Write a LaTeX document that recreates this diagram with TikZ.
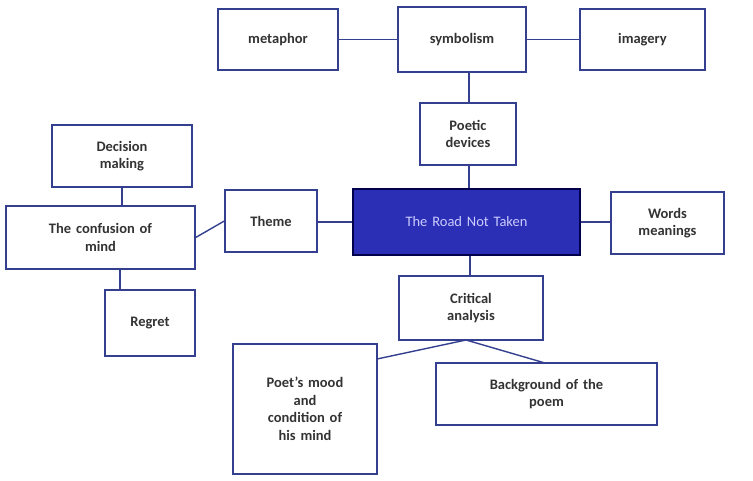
\documentclass[tikz,border=0pt]{standalone}
\usepackage{fontspec}
\setmainfont{Carlito}
\definecolor{ed}{HTML}{34408F}
\definecolor{rb}{HTML}{2A2FB5}
\begin{document}
\begin{tikzpicture}[x=1pt,y=-1pt,
  box/.style={draw=ed,line width=1.4pt,fill=white,align=center,font=\fontsize{14.5}{17.5}\selectfont\bfseries,text=black!80,inner sep=2pt},
  ln/.style={draw=ed,line width=1.4pt}]
\useasboundingbox (0,0) rectangle (753,481);
\def\mk#1#2#3#4#5#6#7{\node[box,#6,minimum width={#4-#2},minimum height={#5-#3},text width={#4-#2-10}] (#1) at ({(#2+#4)/2},{(#3+#5)/2}) {#7};}
\mk{met}{218}{9}{338}{70}{}{metaphor}
\mk{sym}{398}{7}{526}{72}{}{symbolism}
\mk{ima}{580}{9}{705}{70}{}{imagery}
\mk{poe}{420}{103}{516}{165}{}{Poetic\\devices}
\mk{road}{353}{189}{580}{255}{fill=rb,draw=blue!30!black,text=white!80!blue}{\mdseries The Road Not Taken}
\mk{wor}{611}{192}{724}{254}{}{Words\\meanings}
\mk{the}{225}{190}{317}{252}{}{Theme}
\mk{dec}{52}{125}{192}{187}{}{Decision\\making}
\mk{con}{6}{206}{195}{269}{}{The confusion of\\mind}
\mk{reg}{105}{290}{195}{356}{}{Regret}
\mk{cri}{399}{276}{543}{340}{}{Critical\\analysis}
\mk{mood}{233}{344}{377}{474}{}{Poet’s mood\\and\\condition of\\his mind}
\mk{bac}{436}{363}{657}{425}{}{Background of the\\poem}
\draw[ln] (met) -- (sym);
\draw[ln] (sym) -- (ima);
\draw[ln] (sym.south -| 469,0) -- (poe.north -| 469,0);
\draw[ln] (poe.south -| 469,0) -- (road.north -| 469,0);
\draw[ln] (road.east |- 0,222) -- (wor.west |- 0,222);
\draw[ln] (road.west |- 0,222) -- (the.east |- 0,222);
\draw[ln] (the.west) -- (con.east);
\draw[ln] (dec.south -| 122,0) -- (con.north -| 122,0);
\draw[ln] (con.south -| 120,0) -- (reg.north -| 120,0);
\draw[ln] (road.south -| 470,0) -- (cri.north -| 470,0);
\coordinate (cb) at (466,340);
\draw[ln] (cb) -- (377,359);
\draw[ln] (cb) -- (545,363);
\end{tikzpicture}
\end{document}
